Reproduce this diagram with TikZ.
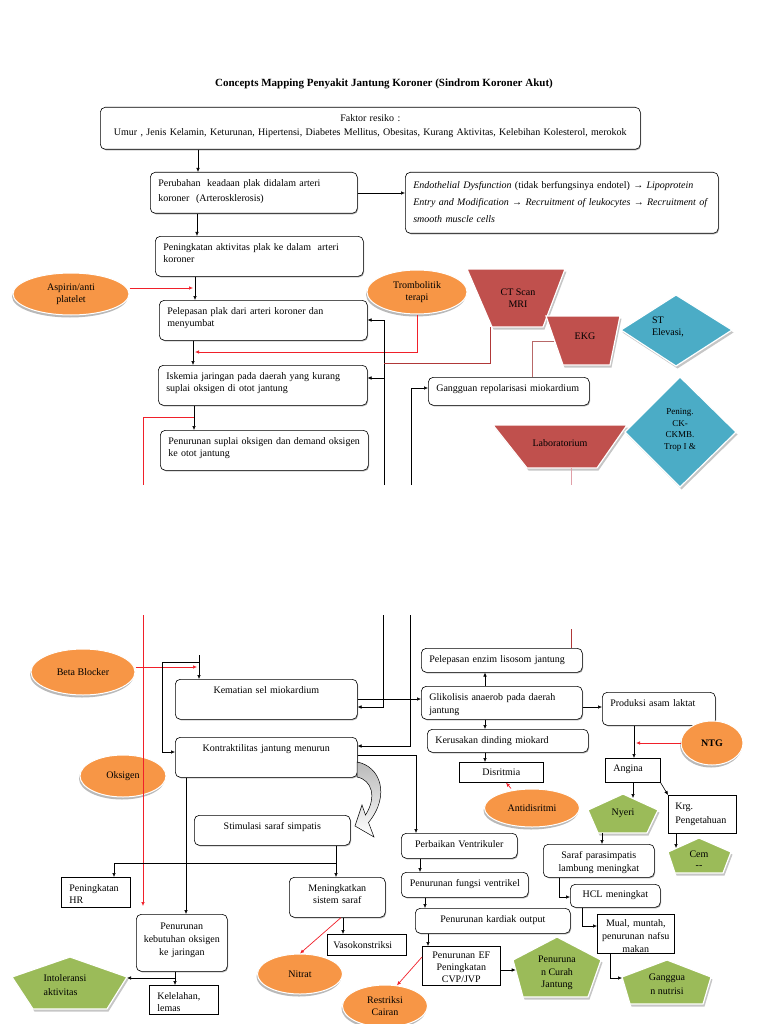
\documentclass[tikz,border=0pt]{standalone}
\usepackage{fontspec}
\setmainfont{Liberation Serif}
\usetikzlibrary{arrows.meta,shadows,shapes.geometric}
\definecolor{orng}{HTML}{F79646}
\definecolor{dredc}{HTML}{C0504D}
\definecolor{tealc}{HTML}{4BACC6}
\definecolor{grnc}{HTML}{9BBB59}
\definecolor{redl}{HTML}{F0202A}
\definecolor{ctl}{HTML}{B03838}
\definecolor{ekl}{HTML}{B86868}
\definecolor{labl}{HTML}{E0A0A8}
\newcommand\bx[7][box]{\pgfmathsetmacro\bxw{#5-#3-16}\pgfmathsetmacro\bxd{#6-#4-17}\node[#1,text width=\bxw pt,text depth=\bxd pt] (#2) at (#3,#4) {#7};}
\newcommand\shp[2]{\fill[gray!45,shift={(1.5,2.5)}] #2; \filldraw[fill=#1,draw=white,line width=1.2pt] #2;}
\newcommand\barr{\textbf{→}}
\tikzset{
  every node/.style={font=\fontsize{10}{12}\selectfont},
  bbase/.style={draw, anchor=north west, inner xsep=8pt, inner ysep=3pt, text height=11pt, align=left, fill=white, line width=0.6pt},
  box/.style={bbase, rounded corners=5pt, drop shadow={shadow xshift=0.8pt,shadow yshift=-1pt,opacity=0.35,fill=black}},
  sbox/.style={bbase},
  oval/.style={ellipse, fill=orng, draw=white, line width=1pt, inner sep=0pt, align=center, drop shadow={shadow xshift=-1pt,shadow yshift=-2.5pt,fill=gray!55,opacity=1}},
  lbl/.style={align=center, inner sep=1pt},
  lin/.style={line width=0.6pt},
  con/.style={line width=0.6pt, -{Latex[length=4pt,width=3.6pt]}},
  rlin/.style={line width=0.8pt, draw=redl},
  rcon/.style={con, draw=redl, line width=0.7pt},
}
\begin{document}
\begin{tikzpicture}[x=1pt,y=-1pt]
\useasboundingbox (0,0) rectangle (768,1024);
\node[font=\bfseries\fontsize{11}{13}\selectfont] (title) at (384,84) {Concepts Mapping Penyakit Jantung Koroner (Sindrom Koroner Akut)};

% ---------- top half boxes ----------
\bx[box,align=center,font=\fontsize{10}{14}\selectfont]{fak}{100}{107}{640}{149}{Faktor resiko :\\Umur , Jenis Kelamin, Keturunan, Hipertensi, Diabetes Mellitus, Obesitas, Kurang Aktivitas, Kelebihan Kolesterol, merokok}
\bx[box,font=\fontsize{10}{15}\selectfont]{per}{150}{172}{357}{213}{Perubahan\ \ keadaan plak didalam arteri\\koroner\ \ (Arterosklerosis)}
\bx[box,font=\fontsize{10}{17}\selectfont,text height=13pt]{endo}{405}{172}{718}{231}{\mbox{\textit{Endothelial Dysfunction} (tidak berfungsinya endotel) \barr{} \textit{Lipoprotein}}\\\mbox{\textit{Entry and Modification} \barr{} \textit{Recruitment of leukocytes} \barr{} \textit{Recruitment of}}\\\textit{smooth muscle cells}}
\bx{pen}{155}{236}{363}{276}{Peningkatan aktivitas plak ke dalam\ \ arteri\\koroner}
\bx{pel}{159}{300}{367}{340}{Pelepasan plak dari arteri koroner dan\\menyumbat}
\bx{isk}{158}{365}{367}{405}{Iskemia jaringan pada daerah yang kurang\\suplai oksigen di otot jantung}
\bx{sup}{160}{430}{368}{470}{\mbox{Penurunan suplai oksigen dan demand oksigen}\\ke otot jantung}
\bx{gang}{428}{377}{589}{405}{Gangguan repolarisasi miokardium}

\node[oval,minimum width=116pt,minimum height=42pt] (asp) at (71,294) {Aspirin/anti\\platelet};
\node[oval,minimum width=100pt,minimum height=44pt] (tro) at (417,292) {Trombolitik\\terapi};

\shp{dredc}{(467,269) -- (565,269) -- (543,327) -- (492,327) -- cycle}
\node[lbl] (ct) at (518,298) {CT Scan\\MRI};
\shp{dredc}{(546,316) -- (620,316) -- (610,365) -- (563,365) -- cycle}
\node[lbl] (ekg) at (585,336) {EKG};
\shp{tealc}{(621,330) -- (676,295) -- (732,330) -- (676,366) -- cycle}
\node[lbl,align=left] (st) at (668,327) {ST\\Elevasi,};
\shp{dredc}{(493,425) -- (627,425) -- (597,468) -- (527,468) -- cycle}
\node[lbl] (lab) at (560,443) {Laboratorium};
\shp{tealc}{(680,377) -- (736,432) -- (680,487) -- (625,432) -- cycle}
\node[lbl,font=\fontsize{9}{11.5}\selectfont] (ckmb) at (680,430) {Pening.\\CK-\\CKMB.\\Trop I \&};

\coordinate (ctb) at (490,327);
\coordinate (ekgl) at (554,341);
\coordinate (labb) at (571,468);

% ---------- top half connectors ----------
\draw[con] (fak.south -| 198,0) -- (per.north -| 198,0);
\draw[con] (per.east |- 0,193) -- (endo.west |- 0,193);
\draw[con] (per.south -| 197,0) -- (pen.north -| 197,0);
\draw[con] (pen.south -| 195,0) -- (pel.north -| 195,0);
\coordinate (aspT) at (193,288);
\draw[rcon] (asp.east |- 0,288) -- (aspT);
\draw[con] (pel.south -| 193,0) -- (isk.north -| 193,0);
\coordinate (troT) at (195,352);
\draw[rcon] (tro.south) -- (417,352) -- (troT);
\coordinate (v1a) at (384,485);
\draw[con] (v1a) -- (384,320) -- (pel.east |- 0,320);
\draw[con] (384,378) -- (isk.east |- 0,378);
\draw[line width=0.8pt, ctl] (ctb) -- (490,363) -- (384,363);
\draw[line width=0.8pt, ekl] (ekgl) -- (532,341) -- (gang.north -| 532,0);
\coordinate (v2a) at (411,485);
\draw[con] (v2a) -- (411,388) -- (gang.west |- 0,388);
\draw[con] (isk.south -| 194,0) -- (sup.north -| 194,0);
\coordinate (r1a) at (143,485);
\draw[rlin] (194,417) -- (143,417) -- (r1a);
\coordinate (labe) at (571,485);
\draw[line width=0.8pt, labl] (labb) -- (labe);

% ---------- bottom half boxes ----------
\bx[box,align=center]{kem}{175}{679}{357}{719}{Kematian sel miokardium}
\bx[box,align=center]{kon}{175}{737}{357}{777}{Kontraktilitas jantung menurun}
\bx[box,align=center]{stim}{194}{815}{350}{845}{Stimulasi saraf simpatis}
\bx[sbox]{hr}{61}{877}{130}{907}{Peningkatan\\HR}
\bx[box,align=center]{men}{289}{877}{385}{917}{Meningkatkan\\sistem saraf}
\bx[sbox,inner xsep=6pt]{vaso}{327}{934}{410}{955}{Vasokonstriksi}
\bx[box,align=center,font=\fontsize{10}{13}\selectfont,text height=12pt,inner xsep=5pt]{keb}{136}{914}{233}{970}{Penurunan\\kebutuhan oksigen\\ke jaringan}
\bx[sbox]{kel}{149}{985}{218}{1014}{Kelelahan,\\lemas}
\bx{enz}{421}{648}{582}{672}{Pelepasan enzim lisosom jantung}
\bx[box,font=\fontsize{10}{13}\selectfont]{gli}{421}{686}{582}{719}{Glikolisis anaerob pada daerah\\jantung}
\bx{ker}{427}{729}{588}{752}{Kerusakan dinding miokard}
\bx[sbox,align=center,text height=10pt]{dis}{459}{762}{543}{783}{Disritmia}
\bx{pro}{602}{692}{715}{725}{Produksi asam laktat}
\bx[sbox,text height=10pt]{ang}{605}{758}{660}{783}{Angina}
\bx[sbox,font=\fontsize{10}{14}\selectfont,inner xsep=7pt]{krg}{668}{795}{738}{833}{Krg.\\Pengetahuan}
\bx[box,align=center,font=\fontsize{10}{13}\selectfont,inner xsep=5pt]{sar}{543}{844}{660}{877}{Saraf parasimpatis\\lambung meningkat}
\bx[box,align=center,text height=10pt]{hcl}{570}{884}{660}{908}{HCL meningkat}
\bx[sbox,align=center,font=\fontsize{10}{13}\selectfont,text height=9pt,inner xsep=4pt]{mual}{597}{914}{682}{955}{Mual, muntah,\\penurunan nafsu\\makan}
\bx[box,align=center]{perb}{401}{833}{517}{858}{Perbaikan Ventrikuler}
\bx[box,align=center]{fung}{401}{872}{528}{897}{Penurunan fungsi ventrikel}
\bx[box,align=center]{kard}{415}{908}{570}{933}{Penurunan kardiak output}
\bx[sbox,align=center,text height=9pt,inner xsep=5pt]{ef}{422}{946}{506}{987}{Penurunan EF\\Peningkatan\\CVP/JVP}

\node[oval,minimum width=104pt,minimum height=46pt] (beta) at (83,672) {Beta Blocker};
\node[oval,minimum width=86pt,minimum height=42pt] (oks) at (123,776) {Oksigen};
\node[oval,minimum width=85pt,minimum height=40pt] (nit) at (300,974) {Nitrat};
\node[oval,minimum width=85pt,minimum height=42pt] (res) at (385,1006) {Restriksi\\Cairan};
\node[oval,minimum width=95pt,minimum height=38pt] (anti) at (532,808) {Antidisritmi};
\node[oval,minimum width=62pt,minimum height=44pt,font=\bfseries\fontsize{10}{12}\selectfont] (ntg) at (712,743) {NTG};

\shp{grnc}{(623,794) -- (658,810) -- (647,833) -- (598,833) -- (588,810) -- cycle}
\node[lbl] (nyeri) at (623,813) {Nyeri};
\shp{grnc}{(699,838) -- (731,852) -- (723,873) -- (675,873) -- (668,852) -- cycle}
\node[lbl,font=\fontsize{10}{11}\selectfont] (cem) at (699,860) {Cem\\-{}-};
\shp{grnc}{(557,937) -- (601,960) -- (588,997) -- (523,997) -- (513,960) -- cycle}
\node[lbl,font=\fontsize{10}{12.5}\selectfont] (curah) at (557,973) {Penuruna\\n Curah\\Jantung};
\shp{grnc}{(667,960) -- (711,977) -- (703,1004) -- (630,1004) -- (622,977) -- cycle}
\node[lbl,font=\fontsize{10}{14}\selectfont] (gnut) at (667,984) {Ganggua\\n nutrisi};
\shp{grnc}{(70,957) -- (127,977) -- (107,1009) -- (33,1009) -- (12,977) -- cycle}
\node[lbl,align=left,font=\fontsize{10}{14}\selectfont] (intol) at (65,985) {Intoleransi\\aktivitas};

\coordinate (nyT) at (633,798);
\coordinate (nyB) at (602,833);
\coordinate (cemT) at (676,848);
\coordinate (curL) at (515.7,970);
\coordinate (gnL) at (622,978);
\coordinate (intR) at (127,978);

% curved block arrow
\shade[top color=gray!55, bottom color=white, draw=black, line width=0.5pt]
  (357,762) .. controls (380,766) and (391,795) .. (368.5,822.5)
  -- (374,837) -- (355,826) -- (362,805) -- (365.5,815)
  .. controls (377,797) and (372,780) .. (357,777) -- cycle;

% ---------- bottom half connectors ----------
\coordinate (r1b) at (143,615);
\coordinate (r1c) at (143,906);
\draw[rcon] (r1b) -- (r1c);
\coordinate (v1b) at (383,615);
\draw[con] (v1b) -- (383,707) -- (kem.east |- 0,707);
\coordinate (v2b) at (410,615);
\draw[con] (v2b) -- (410,746) -- (kon.east |- 0,746);
\coordinate (labf) at (571,629);
\draw[line width=0.8pt, ctl] (labf) -- (enz.north -| 571,0);
\coordinate (betaT) at (197,667);
\draw[rcon] (beta.east |- 0,667) -- (betaT);
\coordinate (kemIn) at (199,655);
\draw[con] (kemIn) -- (kem.north -| 199,0);
\draw[con] (199,662) -- (162,662) -- (162,752) -- (kon.west |- 0,752);
\draw[con] (kem.east |- 0,699) -- (gli.west |- 0,699);
\draw[con] (kon.east |- 0,755) -- (416,755) -- (perb.north -| 416,0);
\draw[con] (kon.south -| 186,0) -- (keb.north -| 186,0);
\draw[lin] (stim.south -| 336,0) -- (336,863);
\draw[lin] (114,863) -- (336,863);
\draw[con] (114,863) -- (hr.north -| 114,0);
\draw[con] (336,863) -- (men.north -| 336,0);
\draw[con] (men.south -| 343,0) -- (vaso.north -| 343,0);
\draw[rcon] (men.south -| 341,0) -- (nit.north);
\draw[lin] (keb.south -| 175,0) -- (175,978);
\draw[con] (175,978) -- (intR);
\draw[con] (175,978) -- (kel.north -| 175,0);
\draw[con] (gli.north -| 485,0) -- (enz.south -| 485,0);
\draw[con] (gli.south -| 485,0) -- (ker.north -| 485,0);
\draw[con] (ker.south -| 485,0) -- (dis.north -| 485,0);
\draw[rcon] (anti.north -| 511,0) -- (dis.south -| 506,0);
\draw[con] (gli.east |- 0,707) -- (pro.west |- 0,707);
\draw[con] (pro.south -| 634,0) -- (ang.north -| 634,0);
\draw[rcon] (ntg.west |- 0,743) -- (636,743);
\draw[con] (ang.south -| 633,0) -- (nyT);
\draw[con] (ang.south east) -- (krg.north west);
\draw[con] (krg.south -| 676,0) -- (cemT);
\draw[con] (nyB) -- (sar.north -| 602,0);
\draw[con] (sar.south -| 559,0) -- (559,897) -- (hcl.west |- 0,897);
\draw[con] (hcl.south -| 582,0) -- (582,926) -- (mual.west |- 0,926);
\draw[con] (mual.south -| 610,0) -- (610,978) -- (gnL);
\draw[con] (perb.south -| 420,0) -- (fung.north -| 420,0);
\draw[con] (fung.south -| 425,0) -- (kard.north -| 425,0);
\draw[con] (kard.south -| 428,0) -- (ef.north -| 428,0);
\draw[con] (ef.east |- 0,970) -- (curL);
\draw[rcon] (ef.west |- 0,957) -- (res.60);
\end{tikzpicture}
\end{document}
